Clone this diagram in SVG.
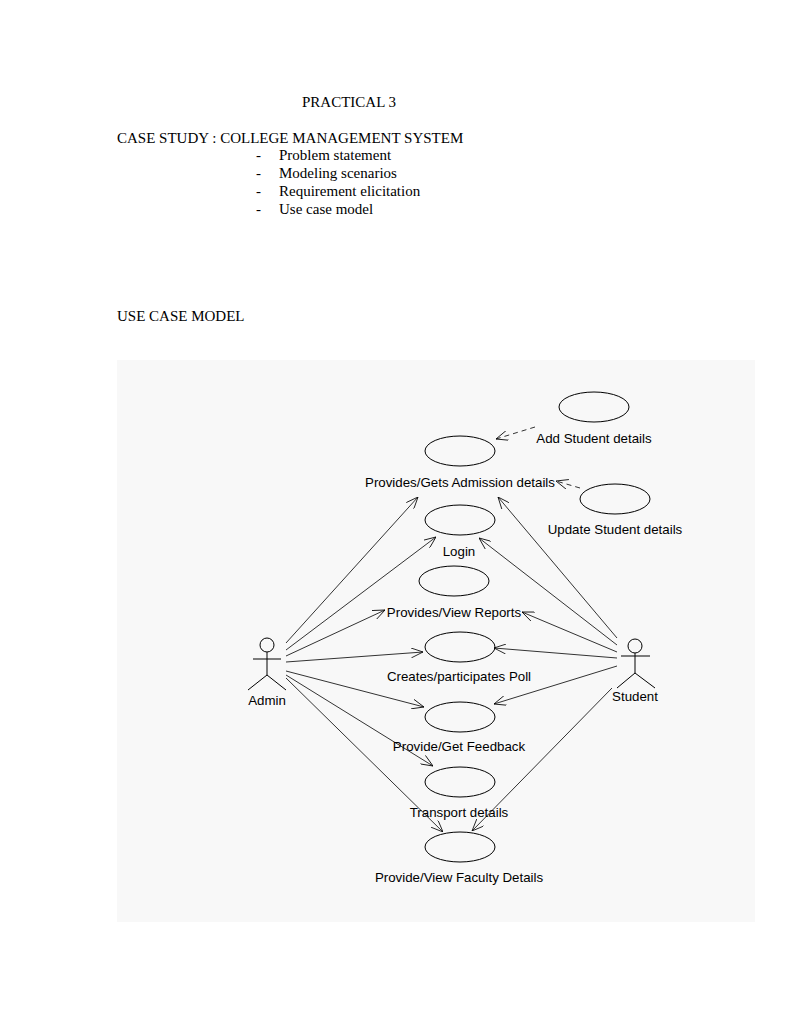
<svg xmlns="http://www.w3.org/2000/svg" width="791" height="1023" viewBox="0 0 791 1023">
<style>
.h{font-family:"Liberation Serif",serif;font-size:15px;fill:#000}
.l{font-family:"Liberation Sans",Arial,sans-serif;font-size:13.3px;fill:#000;text-anchor:middle}
.uc{fill:none;stroke:#000;stroke-width:1}
.c{stroke:#000;stroke-width:0.8;fill:none;marker-end:url(#a)}
.d{stroke-dasharray:5,4}
.act{stroke:#000;stroke-width:1;fill:none}
</style>
<defs><marker id="a" viewBox="0 0 12 10" refX="12" refY="5" markerWidth="12" markerHeight="10" markerUnits="userSpaceOnUse" orient="auto"><path d="M0,0 L12,5 L0,10" fill="none" stroke="#000" stroke-width="0.8"/></marker></defs>
<rect width="791" height="1023" fill="#fff"/>
<text class="h" x="302" y="107">PRACTICAL 3</text>
<text class="h" x="117" y="143">CASE STUDY : COLLEGE MANAGEMENT SYSTEM</text>
<g class="h"><text x="256" y="160">-</text><text x="279" y="160">Problem statement</text>
<text x="256" y="178">-</text><text x="279" y="178">Modeling scenarios</text>
<text x="256" y="196">-</text><text x="279" y="196">Requirement elicitation</text>
<text x="256" y="214">-</text><text x="279" y="214">Use case model</text></g>
<text class="h" x="117" y="321">USE CASE MODEL</text>
<rect x="117" y="360" width="638" height="562" fill="#f8f8f8"/>
<g id="connectors">
<line class="c d" x1="535" y1="427" x2="496" y2="439"/>
<line class="c d" x1="580" y1="488" x2="556" y2="481"/>
<line class="c" x1="286" y1="643" x2="418" y2="497"/>
<line class="c" x1="286" y1="650" x2="436" y2="537"/>
<line class="c" x1="286" y1="656" x2="385" y2="610"/>
<line class="c" x1="286" y1="662" x2="423" y2="652"/>
<line class="c" x1="286" y1="671" x2="424" y2="707"/>
<line class="c" x1="286" y1="675" x2="433" y2="766"/>
<line class="c" x1="286" y1="678" x2="443" y2="832"/>
<line class="c" x1="617" y1="638" x2="498" y2="497"/>
<line class="c" x1="617" y1="645" x2="479" y2="538"/>
<line class="c" x1="617" y1="652" x2="522" y2="612"/>
<line class="c" x1="617" y1="658" x2="494" y2="648"/>
<line class="c" x1="617" y1="666" x2="494" y2="704"/>
<line class="c" x1="612" y1="688" x2="472" y2="831"/>
</g>
<g id="add"><ellipse class="uc" cx="594" cy="407" rx="35" ry="15"/><text class="l" x="594" y="443">Add Student details</text></g>
<g id="admission"><ellipse class="uc" cx="460" cy="451" rx="35" ry="15"/><text class="l" x="460" y="487">Provides/Gets Admission details</text></g>
<g id="update"><ellipse class="uc" cx="615" cy="499" rx="35" ry="15"/><text class="l" x="615" y="534">Update Student details</text></g>
<g id="login"><ellipse class="uc" cx="460" cy="520" rx="35" ry="15"/><text class="l" x="459" y="556">Login</text></g>
<g id="reports"><ellipse class="uc" cx="454" cy="581" rx="35" ry="15"/><text class="l" x="454" y="617">Provides/View Reports</text></g>
<g id="poll"><ellipse class="uc" cx="460" cy="647" rx="35" ry="15"/><text class="l" x="459" y="681">Creates/participates Poll</text></g>
<g id="feedback"><ellipse class="uc" cx="460" cy="717" rx="35" ry="15"/><text class="l" x="459" y="751">Provide/Get Feedback</text></g>
<g id="transport"><ellipse class="uc" cx="460" cy="782" rx="35" ry="15"/><text class="l" x="459" y="817">Transport details</text></g>
<g id="faculty"><ellipse class="uc" cx="460" cy="847" rx="35" ry="15"/><text class="l" x="459" y="882">Provide/View Faculty Details</text></g>
<g id="admin" class="act"><circle cx="267" cy="645" r="7"/><line x1="267" y1="652" x2="267" y2="675"/><line x1="253" y1="659" x2="281" y2="659"/><line x1="267" y1="675" x2="248" y2="690"/><line x1="267" y1="675" x2="286" y2="690"/><text class="l" x="267" y="705" stroke="none">Admin</text></g>
<g id="student" class="act"><circle cx="635" cy="646" r="7"/><line x1="635" y1="653" x2="635" y2="673"/><line x1="621" y1="656" x2="650" y2="656"/><line x1="635" y1="673" x2="617" y2="688"/><line x1="635" y1="673" x2="655" y2="688"/><text class="l" x="635" y="701" stroke="none">Student</text></g>
</svg>
